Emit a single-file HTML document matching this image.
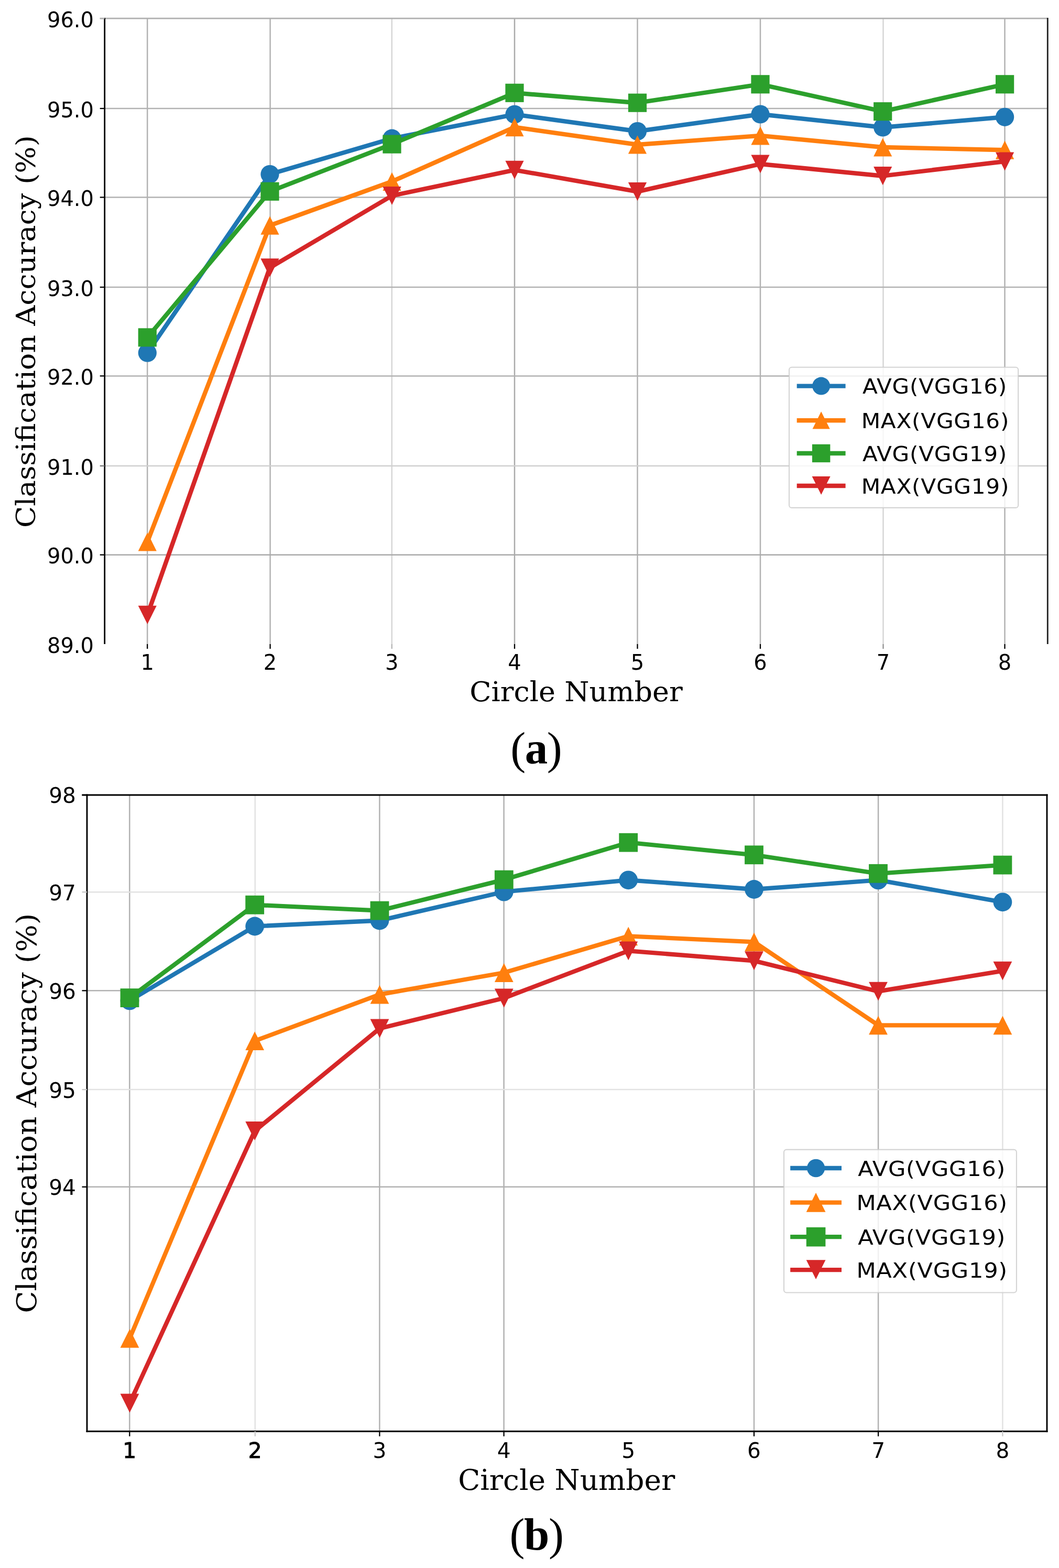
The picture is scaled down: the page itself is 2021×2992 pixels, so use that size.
<!DOCTYPE html>
<html lang="en">
<head>
<meta charset="utf-8">
<title>Classification Accuracy vs Circle Number</title>
<style>
html,body{margin:0;padding:0;background:#fff;}
body{width:2021px;height:2992px;overflow:hidden;}
svg{display:block;}
text{white-space:pre;}
</style>
</head>
<body>
<svg width="2021" height="2992" viewBox="0 0 2021 2992">
<rect x="0" y="0" width="2021" height="2992" fill="#ffffff"/>
<g id="chart-a">
<g stroke-width="2.5" fill="none">
<line x1="281.2" y1="35.2" x2="281.2" y2="1229" stroke="#b2b2b2"/>
<line x1="515.6" y1="35.2" x2="515.6" y2="1229" stroke="#b2b2b2"/>
<line x1="747.8" y1="35.2" x2="747.8" y2="1229" stroke="#d6d6d6"/>
<line x1="982" y1="35.2" x2="982" y2="1229" stroke="#aaaaaa"/>
<line x1="1216.5" y1="35.2" x2="1216.5" y2="1229" stroke="#b2b2b2"/>
<line x1="1451" y1="35.2" x2="1451" y2="1229" stroke="#b2b2b2"/>
<line x1="1685.5" y1="35.2" x2="1685.5" y2="1229" stroke="#d6d6d6"/>
<line x1="1917.5" y1="35.2" x2="1917.5" y2="1229" stroke="#b2b2b2"/>
<line x1="199.7" y1="207" x2="1999.3" y2="207" stroke="#b2b2b2"/>
<line x1="199.7" y1="376.5" x2="1999.3" y2="376.5" stroke="#b2b2b2"/>
<line x1="199.7" y1="548" x2="1999.3" y2="548" stroke="#b2b2b2"/>
<line x1="199.7" y1="717.4" x2="1999.3" y2="717.4" stroke="#b2b2b2"/>
<line x1="199.7" y1="889" x2="1999.3" y2="889" stroke="#d0d0d0"/>
<line x1="199.7" y1="1058.7" x2="1999.3" y2="1058.7" stroke="#aaaaaa"/>
</g>
<g>
<polyline points="281.3,673.2 515,332.5 748,264.2 982,218.3 1216.5,250.5 1451,218 1684.7,243 1917.6,223.3" fill="none" stroke="#1f77b4" stroke-width="8.4" stroke-linejoin="round" stroke-linecap="butt"/>
<circle cx="281.3" cy="673.2" r="17.6" fill="#1f77b4"/>
<circle cx="515" cy="332.5" r="17.6" fill="#1f77b4"/>
<circle cx="748" cy="264.2" r="17.6" fill="#1f77b4"/>
<circle cx="982" cy="218.3" r="17.6" fill="#1f77b4"/>
<circle cx="1216.5" cy="250.5" r="17.6" fill="#1f77b4"/>
<circle cx="1451" cy="218" r="17.6" fill="#1f77b4"/>
<circle cx="1684.7" cy="243" r="17.6" fill="#1f77b4"/>
<circle cx="1917.6" cy="223.3" r="17.6" fill="#1f77b4"/>
</g>
<g>
<polyline points="281.3,1033.9 515,430.2 748,346.3 982,242.7 1216.5,276 1451,258.9 1684.7,281 1917.6,286.2" fill="none" stroke="#ff7f0e" stroke-width="8.4" stroke-linejoin="round" stroke-linecap="butt"/>
<polygon points="281.3,1016.3 263.7,1051.5 298.9,1051.5" fill="#ff7f0e"/>
<polygon points="515,412.6 497.4,447.8 532.6,447.8" fill="#ff7f0e"/>
<polygon points="748,328.7 730.4,363.9 765.6,363.9" fill="#ff7f0e"/>
<polygon points="982,225.1 964.4,260.3 999.6,260.3" fill="#ff7f0e"/>
<polygon points="1216.5,258.4 1198.9,293.6 1234.1,293.6" fill="#ff7f0e"/>
<polygon points="1451,241.3 1433.4,276.5 1468.6,276.5" fill="#ff7f0e"/>
<polygon points="1684.7,263.4 1667.1,298.6 1702.3,298.6" fill="#ff7f0e"/>
<polygon points="1917.6,268.6 1900,303.8 1935.2,303.8" fill="#ff7f0e"/>
</g>
<g>
<polyline points="281.3,643.9 515,365.3 748,275.1 982,177.3 1216.5,196.2 1451,160.8 1684.7,212.7 1917.6,160.8" fill="none" stroke="#2ca02c" stroke-width="8.4" stroke-linejoin="round" stroke-linecap="butt"/>
<rect x="263.7" y="626.3" width="35.2" height="35.2" fill="#2ca02c"/>
<rect x="497.4" y="347.7" width="35.2" height="35.2" fill="#2ca02c"/>
<rect x="730.4" y="257.5" width="35.2" height="35.2" fill="#2ca02c"/>
<rect x="964.4" y="159.7" width="35.2" height="35.2" fill="#2ca02c"/>
<rect x="1198.9" y="178.6" width="35.2" height="35.2" fill="#2ca02c"/>
<rect x="1433.4" y="143.2" width="35.2" height="35.2" fill="#2ca02c"/>
<rect x="1667.1" y="195.1" width="35.2" height="35.2" fill="#2ca02c"/>
<rect x="1900" y="143.2" width="35.2" height="35.2" fill="#2ca02c"/>
</g>
<g>
<polyline points="281.3,1173.3 515,510.8 748,373.5 982,324.3 1216.5,365.6 1451,313 1684.7,335.7 1917.6,308" fill="none" stroke="#d62728" stroke-width="8.4" stroke-linejoin="round" stroke-linecap="butt"/>
<polygon points="281.3,1190.9 263.7,1155.7 298.9,1155.7" fill="#d62728"/>
<polygon points="515,528.4 497.4,493.2 532.6,493.2" fill="#d62728"/>
<polygon points="748,391.1 730.4,355.9 765.6,355.9" fill="#d62728"/>
<polygon points="982,341.9 964.4,306.7 999.6,306.7" fill="#d62728"/>
<polygon points="1216.5,383.2 1198.9,348 1234.1,348" fill="#d62728"/>
<polygon points="1451,330.6 1433.4,295.4 1468.6,295.4" fill="#d62728"/>
<polygon points="1684.7,353.3 1667.1,318.1 1702.3,318.1" fill="#d62728"/>
<polygon points="1917.6,325.6 1900,290.4 1935.2,290.4" fill="#d62728"/>
</g>
<g stroke-width="2.8" fill="none"><line x1="190.7" y1="35.2" x2="1999.3" y2="35.2" stroke="#b0b0b0" stroke-width="2.8"/><line x1="199.7" y1="34" x2="199.7" y2="1229" stroke="#000"/><line x1="1999.3" y1="34" x2="1999.3" y2="1229" stroke="#222"/></g>
<g stroke-width="2.3">
<line x1="281.2" y1="1229" x2="281.2" y2="1238" stroke="#000"/>
<line x1="515.6" y1="1229" x2="515.6" y2="1238" stroke="#000"/>
<line x1="747.8" y1="1229" x2="747.8" y2="1238" stroke="#b4b4b4"/>
<line x1="982" y1="1229" x2="982" y2="1238" stroke="#000"/>
<line x1="1216.5" y1="1229" x2="1216.5" y2="1238" stroke="#000"/>
<line x1="1451" y1="1229" x2="1451" y2="1238" stroke="#000"/>
<line x1="1685.5" y1="1229" x2="1685.5" y2="1238" stroke="#909090"/>
<line x1="1917.5" y1="1229" x2="1917.5" y2="1238" stroke="#000"/>
<line x1="190.7" y1="35.2" x2="199.7" y2="35.2" stroke="#b0b0b0"/>
<line x1="190.7" y1="207" x2="199.7" y2="207" stroke="#000"/>
<line x1="190.7" y1="376.5" x2="199.7" y2="376.5" stroke="#000"/>
<line x1="190.7" y1="548" x2="199.7" y2="548" stroke="#000"/>
<line x1="190.7" y1="717.4" x2="199.7" y2="717.4" stroke="#000"/>
<line x1="190.7" y1="889" x2="199.7" y2="889" stroke="#777"/>
<line x1="190.7" y1="1058.7" x2="199.7" y2="1058.7" stroke="#000"/>
<line x1="190.7" y1="1229" x2="199.7" y2="1229" stroke="none"/>
</g>
<g font-family="'DejaVu Sans', 'Liberation Sans', sans-serif" font-size="40" fill="#000">
<text x="281.2" y="1278.3" text-anchor="middle">1</text>
<text x="515.6" y="1278.3" text-anchor="middle">2</text>
<text x="747.8" y="1278.3" text-anchor="middle">3</text>
<text x="982" y="1278.3" text-anchor="middle">4</text>
<text x="1216.5" y="1278.3" text-anchor="middle">5</text>
<text x="1451" y="1278.3" text-anchor="middle">6</text>
<text x="1685.5" y="1278.3" text-anchor="middle">7</text>
<text x="1917.5" y="1278.3" text-anchor="middle">8</text>
<text x="179" y="51.8" text-anchor="end">96.0</text>
<text x="179" y="223.6" text-anchor="end">95.0</text>
<text x="179" y="393.1" text-anchor="end">94.0</text>
<text x="179" y="564.6" text-anchor="end">93.0</text>
<text x="179" y="734" text-anchor="end">92.0</text>
<text x="179" y="905.6" text-anchor="end">91.0</text>
<text x="179" y="1075.3" text-anchor="end">90.0</text>
<text x="179" y="1245.6" text-anchor="end">89.0</text>
</g>
<g font-family="'DejaVu Serif', 'Liberation Serif', serif" font-size="54" fill="#000">
<text transform="translate(1099.5 1338.3) scale(1 0.97)" text-anchor="middle">Circle Number</text>
<text transform="translate(66.9 632.7) rotate(-90) scale(1 0.95)" text-anchor="middle">Classification Accuracy (%)</text>
</g>
<rect x="1506" y="700.8" width="437.2" height="268.1" rx="5" ry="5" fill="#ffffff" fill-opacity="0.8" stroke="#cccccc" stroke-opacity="0.85" stroke-width="2.1"/>
<g font-family="'DejaVu Sans', 'Liberation Sans', sans-serif" font-size="41" letter-spacing="0.7" fill="#000">
<line x1="1520.7" y1="736.6" x2="1613.6" y2="736.6" stroke="#1f77b4" stroke-width="8.4"/>
<circle cx="1567.15" cy="736.6" r="17" fill="#1f77b4"/>
<text transform="translate(1646.1 751.2) scale(1.03 0.965)">AVG(VGG16)</text>
<line x1="1520.7" y1="802.3" x2="1613.6" y2="802.3" stroke="#ff7f0e" stroke-width="8.4"/>
<polygon points="1567.15,785.3 1550.55,818.5 1583.75,818.5" fill="#ff7f0e"/>
<text transform="translate(1643.7 816.9) scale(1.03 0.965)">MAX(VGG16)</text>
<line x1="1520.7" y1="865" x2="1613.6" y2="865" stroke="#2ca02c" stroke-width="8.4"/>
<rect x="1549.95" y="847.8" width="34.4" height="34.4" fill="#2ca02c"/>
<text transform="translate(1646.1 879.6) scale(1.03 0.965)">AVG(VGG19)</text>
<line x1="1520.7" y1="927" x2="1613.6" y2="927" stroke="#d62728" stroke-width="8.4"/>
<polygon points="1567.15,944.1 1549.65,909.1 1584.65,909.1" fill="#d62728"/>
<text transform="translate(1643.7 941.6) scale(1.03 0.965)">MAX(VGG19)</text>
</g>
<text x="1022.8" y="1456.8" text-anchor="middle" font-family="'Liberation Serif', 'DejaVu Serif', serif" font-size="87" letter-spacing="-1.5" fill="#000">(<tspan font-weight="bold">a</tspan>)</text>
</g>
<g id="chart-b">
<g stroke-width="2.5" fill="none">
<line x1="247.3" y1="1517" x2="247.3" y2="2731.2" stroke="#b2b2b2"/>
<line x1="486.8" y1="1517" x2="486.8" y2="2731.2" stroke="#e2e2e2"/>
<line x1="724.4" y1="1517" x2="724.4" y2="2731.2" stroke="#b2b2b2"/>
<line x1="961.6" y1="1517" x2="961.6" y2="2731.2" stroke="#b2b2b2"/>
<line x1="1439" y1="1517" x2="1439" y2="2731.2" stroke="#b2b2b2"/>
<line x1="1676.1" y1="1517" x2="1676.1" y2="2731.2" stroke="#b2b2b2"/>
<line x1="1913.4" y1="1517" x2="1913.4" y2="2731.2" stroke="#e2e2e2"/>
<line x1="166" y1="1702.2" x2="1998" y2="1702.2" stroke="#e2e2e2"/>
<line x1="166" y1="1890.3" x2="1998" y2="1890.3" stroke="#b2b2b2"/>
<line x1="166" y1="2079.1" x2="1998" y2="2079.1" stroke="#e2e2e2"/>
<line x1="166" y1="2264.8" x2="1998" y2="2264.8" stroke="#b2b2b2"/>
</g>
<g>
<polyline points="247.5,1909.4 486.2,1767.5 724.5,1756.5 961.8,1701.7 1199.2,1679.3 1439,1697 1676,1679.4 1913.4,1721.3" fill="none" stroke="#1f77b4" stroke-width="8.3" stroke-linejoin="round" stroke-linecap="butt"/>
<circle cx="247.5" cy="1909.4" r="17.9" fill="#1f77b4"/>
<circle cx="486.2" cy="1767.5" r="17.9" fill="#1f77b4"/>
<circle cx="724.5" cy="1756.5" r="17.9" fill="#1f77b4"/>
<circle cx="961.8" cy="1701.7" r="17.9" fill="#1f77b4"/>
<circle cx="1199.2" cy="1679.3" r="17.9" fill="#1f77b4"/>
<circle cx="1439" cy="1697" r="17.9" fill="#1f77b4"/>
<circle cx="1676" cy="1679.4" r="17.9" fill="#1f77b4"/>
<circle cx="1913.4" cy="1721.3" r="17.9" fill="#1f77b4"/>
</g>
<g>
<polyline points="247.5,2553.8 486.2,1986.2 724.5,1897.6 961.8,1856 1199.2,1786.3 1439,1797.3 1676,1956.3 1913.4,1956.3" fill="none" stroke="#ff7f0e" stroke-width="8.3" stroke-linejoin="round" stroke-linecap="butt"/>
<polygon points="247.5,2535.9 229.6,2571.7 265.4,2571.7" fill="#ff7f0e"/>
<polygon points="486.2,1968.3 468.3,2004.1 504.1,2004.1" fill="#ff7f0e"/>
<polygon points="724.5,1879.7 706.6,1915.5 742.4,1915.5" fill="#ff7f0e"/>
<polygon points="961.8,1838.1 943.9,1873.9 979.7,1873.9" fill="#ff7f0e"/>
<polygon points="1199.2,1768.4 1181.3,1804.2 1217.1,1804.2" fill="#ff7f0e"/>
<polygon points="1439,1779.4 1421.1,1815.2 1456.9,1815.2" fill="#ff7f0e"/>
<polygon points="1676,1938.4 1658.1,1974.2 1693.9,1974.2" fill="#ff7f0e"/>
<polygon points="1913.4,1938.4 1895.5,1974.2 1931.3,1974.2" fill="#ff7f0e"/>
</g>
<g>
<polyline points="247.5,1904.1 486.2,1726.7 724.5,1737.6 961.8,1678.6 1199.2,1607.7 1439,1631.3 1676,1666.8 1913.4,1650.6" fill="none" stroke="#2ca02c" stroke-width="8.3" stroke-linejoin="round" stroke-linecap="butt"/>
<rect x="229.6" y="1886.2" width="35.8" height="35.8" fill="#2ca02c"/>
<rect x="468.3" y="1708.8" width="35.8" height="35.8" fill="#2ca02c"/>
<rect x="706.6" y="1719.7" width="35.8" height="35.8" fill="#2ca02c"/>
<rect x="943.9" y="1660.7" width="35.8" height="35.8" fill="#2ca02c"/>
<rect x="1181.3" y="1589.8" width="35.8" height="35.8" fill="#2ca02c"/>
<rect x="1421.1" y="1613.4" width="35.8" height="35.8" fill="#2ca02c"/>
<rect x="1658.1" y="1648.9" width="35.8" height="35.8" fill="#2ca02c"/>
<rect x="1895.5" y="1632.7" width="35.8" height="35.8" fill="#2ca02c"/>
</g>
<g>
<polyline points="247.5,2677.5 486.2,2158 724.5,1962.5 961.8,1904.5 1199.2,1814.4 1439,1833.4 1676,1891.7 1913.4,1852.6" fill="none" stroke="#d62728" stroke-width="8.3" stroke-linejoin="round" stroke-linecap="butt"/>
<polygon points="247.5,2695.4 229.6,2659.6 265.4,2659.6" fill="#d62728"/>
<polygon points="486.2,2175.9 468.3,2140.1 504.1,2140.1" fill="#d62728"/>
<polygon points="724.5,1980.4 706.6,1944.6 742.4,1944.6" fill="#d62728"/>
<polygon points="961.8,1922.4 943.9,1886.6 979.7,1886.6" fill="#d62728"/>
<polygon points="1199.2,1832.3 1181.3,1796.5 1217.1,1796.5" fill="#d62728"/>
<polygon points="1439,1851.3 1421.1,1815.5 1456.9,1815.5" fill="#d62728"/>
<polygon points="1676,1909.6 1658.1,1873.8 1693.9,1873.8" fill="#d62728"/>
<polygon points="1913.4,1870.5 1895.5,1834.7 1931.3,1834.7" fill="#d62728"/>
</g>
<g stroke-width="2.9" fill="none" stroke="#000"><line x1="156.5" y1="1517" x2="1999.5" y2="1517"/><line x1="166" y1="1515.5" x2="166" y2="2732.7"/><line x1="1998" y1="1515.5" x2="1998" y2="2732.7"/><line x1="164.5" y1="2731.2" x2="1999.5" y2="2731.2"/></g>
<g stroke-width="2.3">
<line x1="247.3" y1="2731.2" x2="247.3" y2="2740.7" stroke="#000"/>
<line x1="486.8" y1="2731.2" x2="486.8" y2="2740.7" stroke="#c8c8c8"/>
<line x1="724.4" y1="2731.2" x2="724.4" y2="2740.7" stroke="#000"/>
<line x1="961.6" y1="2731.2" x2="961.6" y2="2740.7" stroke="#000"/>
<line x1="1199.3" y1="2731.2" x2="1199.3" y2="2740.7" stroke="none"/>
<line x1="1439" y1="2731.2" x2="1439" y2="2740.7" stroke="#000"/>
<line x1="1676.1" y1="2731.2" x2="1676.1" y2="2740.7" stroke="#000"/>
<line x1="1913.4" y1="2731.2" x2="1913.4" y2="2740.7" stroke="#c8c8c8"/>
<line x1="156.5" y1="1517" x2="166" y2="1517" stroke="#000"/>
<line x1="156.5" y1="1702.2" x2="166" y2="1702.2" stroke="#c8c8c8"/>
<line x1="156.5" y1="1890.3" x2="166" y2="1890.3" stroke="#000"/>
<line x1="156.5" y1="2079.1" x2="166" y2="2079.1" stroke="#c8c8c8"/>
<line x1="156.5" y1="2264.8" x2="166" y2="2264.8" stroke="#000"/>
</g>
<g font-family="'DejaVu Sans', 'Liberation Sans', sans-serif" font-size="40.7" fill="#000">
<text x="247.3" y="2781.6" text-anchor="middle" stroke="#000" stroke-width="1.0">1</text>
<text x="486.8" y="2781.6" text-anchor="middle" stroke="#000" stroke-width="1.0">2</text>
<text x="724.4" y="2781.6" text-anchor="middle">3</text>
<text x="961.6" y="2781.6" text-anchor="middle">4</text>
<text x="1199.3" y="2781.6" text-anchor="middle">5</text>
<text x="1439" y="2781.6" text-anchor="middle">6</text>
<text x="1676.1" y="2781.6" text-anchor="middle">7</text>
<text x="1913.4" y="2781.6" text-anchor="middle">8</text>
<text x="145" y="1532.4" text-anchor="end">98</text>
<text x="145" y="1717.6" text-anchor="end">97</text>
<text x="145" y="1905.7" text-anchor="end">96</text>
<text x="145" y="2094.5" text-anchor="end">95</text>
<text x="145" y="2280.2" text-anchor="end">94</text>
</g>
<g font-family="'DejaVu Serif', 'Liberation Serif', serif" font-size="55" fill="#000">
<text transform="translate(1081.2 2842.6) scale(1 0.97)" text-anchor="middle">Circle Number</text>
<text transform="translate(68.8 2124.2) rotate(-90) scale(1 0.95)" text-anchor="middle">Classification Accuracy (%)</text>
</g>
<rect x="1496" y="2193.6" width="443.9" height="272.9" rx="5" ry="5" fill="#ffffff" fill-opacity="0.8" stroke="#cccccc" stroke-opacity="0.85" stroke-width="2.1"/>
<g font-family="'DejaVu Sans', 'Liberation Sans', sans-serif" font-size="41.7" letter-spacing="0.7" fill="#000">
<line x1="1508.2" y1="2229" x2="1606" y2="2229" stroke="#1f77b4" stroke-width="8.3"/>
<circle cx="1557.1" cy="2229" r="17.2" fill="#1f77b4"/>
<text transform="translate(1637.2 2243.7) scale(1.035 0.955)">AVG(VGG16)</text>
<line x1="1508.2" y1="2294.7" x2="1606" y2="2294.7" stroke="#ff7f0e" stroke-width="8.3"/>
<polygon points="1557.1,2275.9 1538.7,2312.7 1575.5,2312.7" fill="#ff7f0e"/>
<text transform="translate(1634.4 2309.4) scale(1.035 0.955)">MAX(VGG16)</text>
<line x1="1508.2" y1="2360.2" x2="1606" y2="2360.2" stroke="#2ca02c" stroke-width="8.3"/>
<rect x="1538.8" y="2341.9" width="36.6" height="36.6" fill="#2ca02c"/>
<text transform="translate(1637.2 2374.9) scale(1.035 0.955)">AVG(VGG19)</text>
<line x1="1508.2" y1="2423.1" x2="1606" y2="2423.1" stroke="#d62728" stroke-width="8.3"/>
<polygon points="1557.1,2441.1 1538.7,2404.3 1575.5,2404.3" fill="#d62728"/>
<text transform="translate(1634.4 2437.8) scale(1.035 0.955)">MAX(VGG19)</text>
</g>
<text x="1023.5" y="2957.3" text-anchor="middle" font-family="'Liberation Serif', 'DejaVu Serif', serif" font-size="87" letter-spacing="-1.5" fill="#000">(<tspan font-weight="bold">b</tspan>)</text>
</g>
</svg>
</body>
</html>
